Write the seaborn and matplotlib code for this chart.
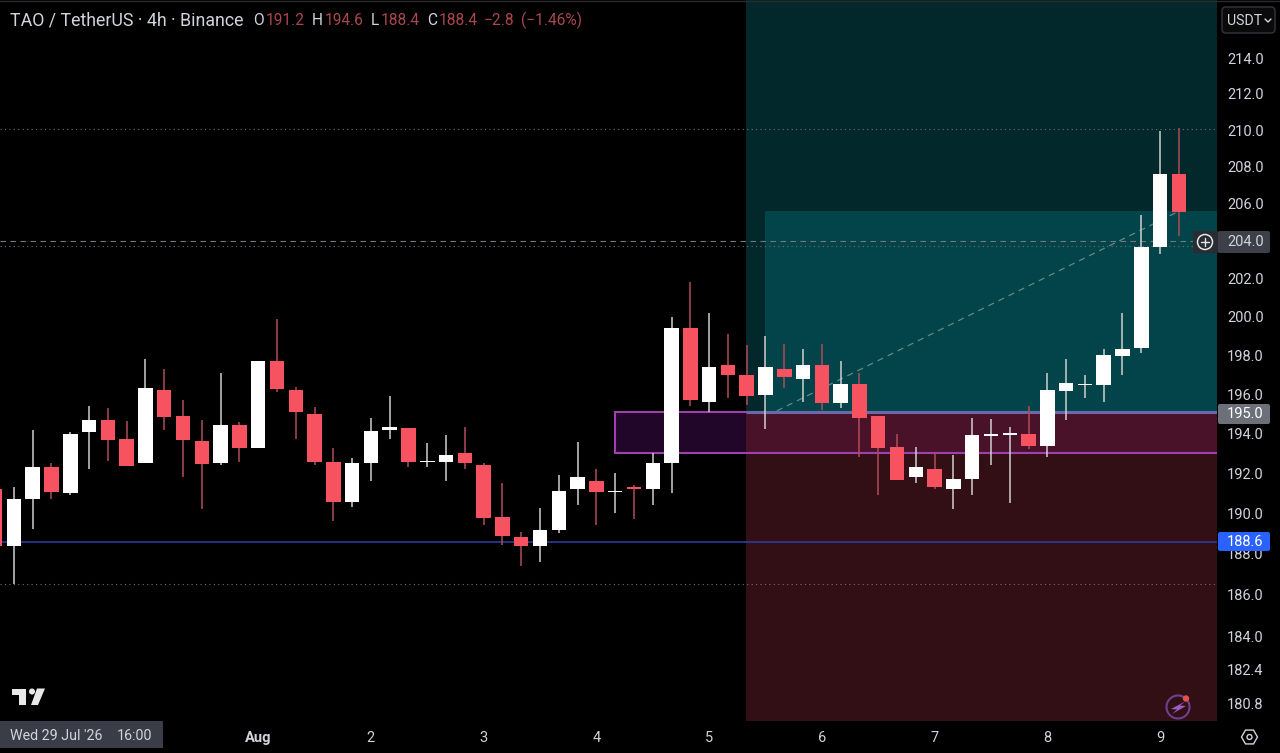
import numpy as np
import pandas as pd
import matplotlib
matplotlib.use('Agg')
import matplotlib.pyplot as plt
from matplotlib.patches import Rectangle, Circle, Polygon, FancyBboxPatch
from matplotlib.ticker import NullLocator
import seaborn as sns

opens = [191.2, 188.4, 190.69, 192.31, 190.99, 194.09, 194.68, 193.72, 192.49, 196.2, 194.88, 193.6, 192.49, 194.41,
         193.28, 197.71, 196.2, 194.99, 192.57, 190.57, 192.49, 194.16, 194.29, 192.57, 192.57, 193.01, 192.39, 189.79,
         188.8, 188.37, 189.18, 191.19, 191.59, 191.07, 191.32, 191.19, 192.49, 199.41, 195.59, 197.5, 196.99, 195.97,
         197.31, 196.77, 197.5, 195.57, 196.51, 194.89, 193.3, 191.79, 192.21, 191.19, 191.69, 193.87, 193.95, 193.98,
         193.38, 196.18, 196.46, 196.49, 197.96, 198.36, 203.67, 207.59]
highs = [194.6, 191.32, 194.17, 192.49, 194.09, 195.4, 195.3, 194.62, 197.79, 197.31, 195.7, 194.68, 197.11, 194.6,
         197.71, 199.91, 196.39, 195.36, 193.28, 192.77, 194.81, 195.91, 194.29, 193.52, 193.9, 194.31, 192.49, 191.49,
         189.08, 190.27, 191.89, 193.58, 192.19, 191.99, 191.41, 193.0, 200.01, 201.83, 200.19, 199.09, 198.54, 199.0,
         198.59, 198.31, 198.59, 197.69, 197.11, 194.89, 194.0, 193.3, 193.0, 192.91, 194.8, 194.72, 194.31, 195.4,
         197.11, 197.79, 196.98, 198.31, 200.19, 205.38, 209.97, 210.1]
lows = [188.4, 186.51, 189.2, 190.72, 190.92, 192.2, 192.59, 192.38, 192.49, 194.17, 191.82, 190.21, 192.41, 192.57,
        193.28, 196.13, 193.73, 192.41, 189.61, 190.29, 191.61, 193.72, 192.32, 192.32, 191.61, 192.21, 189.41, 188.41,
        187.41, 187.6, 189.0, 190.4, 189.41, 189.99, 189.72, 190.4, 191.02, 195.41, 195.1, 195.81, 195.47, 194.21,
        196.3, 195.6, 195.19, 195.3, 192.8, 190.92, 191.67, 191.52, 191.19, 190.21, 190.92, 192.39, 190.52, 193.21,
        192.8, 194.68, 195.81, 195.62, 196.99, 198.1, 203.31, 204.27]
closes = [188.4, 190.71, 192.32, 191.07, 193.98, 194.7, 193.68, 192.38, 196.3, 194.86, 193.68, 192.47, 194.41, 193.28,
          197.71, 196.28, 195.08, 192.57, 190.57, 192.51, 194.11, 194.31, 192.57, 192.62, 192.9, 192.49, 189.77, 188.87,
          188.37, 189.18, 191.09, 191.82, 191.07, 191.12, 191.19, 192.51, 199.41, 195.7, 197.4, 196.97, 195.89, 197.4,
          196.88, 197.5, 195.57, 196.51, 194.79, 193.28, 191.67, 192.31, 191.29, 191.71, 193.9, 193.98, 194.02, 193.36,
          196.2, 196.59, 196.52, 198.0, 198.31, 203.7, 207.59, 205.58]

# price axis
price_ticks = [214.0, 212.0, 210.0, 208.0, 206.0, 204.0, 202.0, 200.0, 198.0, 196.0, 194.0, 192.0, 190.0, 188.0,
               186.0, 184.0, 182.4, 180.8]
price_top, price_bottom = 217.27, 179.96

# time axis (candle index of each label)
day_labels = ['Aug', '2', '3', '4', '5', '6', '7', '8', '9']
day_candles = [14, 20, 26, 32, 38, 44, 50, 56, 62]

# drawn levels
dotted_levels = [210.08, 203.75, 186.5]
crosshair_price = 204.0
support_price = 188.6
entry_price = 195.08
target_price = 205.6
zone_top, zone_bottom = 195.1, 193.01
zone_start, tool_start, target_start = 33, 40, 41
trend_x = [41.6, 63]
trend_y = [195.15, 205.6]

# colours
UP = '#ffffff'
DOWN = '#f7525f'
UP_WICK = '#cfcfcf'
DOWN_WICK = '#b04c58'
TEXT = '#d1d4dc'
VAL = '#a9474f'

sns.set_theme(style='dark', rc={'figure.facecolor': 'black', 'axes.facecolor': 'black'})
plt.rcParams['font.family'] = ['Roboto', 'DejaVu Sans']

df = pd.DataFrame({'i': np.arange(len(opens)), 'open': opens, 'high': highs, 'low': lows, 'close': closes})
df['body'] = (df['close'] - df['open']).abs()
df['base'] = df[['open', 'close']].min(axis=1)
df['up'] = df['close'] >= df['open']

fig = plt.figure(figsize=(12.8, 7.53), dpi=100)
ax = fig.add_axes([0, 32 / 753, 1217 / 1280, 721 / 753])
x_left, x_right = 0.26, 65.03

# long/short tool zones and order block
ax.add_patch(Rectangle((tool_start - 0.03, entry_price), x_right - tool_start + 1, price_top - entry_price, fc='#02282b', lw=0, zorder=1))
ax.add_patch(Rectangle((target_start, entry_price), x_right - target_start + 1, target_price - entry_price, fc='#02444a', lw=0, zorder=1.1))
ax.add_patch(Rectangle((tool_start - 0.03, price_bottom), x_right - tool_start + 1, entry_price - price_bottom, fc='#320f14', lw=0, zorder=1))
ax.add_patch(Rectangle((zone_start, zone_bottom), x_right - zone_start + 1, zone_top - zone_bottom, fc='#21062a', lw=0, zorder=1.2))
ax.add_patch(Rectangle((tool_start - 0.03, zone_bottom), x_right - tool_start + 1, zone_top - zone_bottom, fc='#4a1229', lw=0, zorder=1.3))
ax.add_patch(Rectangle((zone_start, zone_bottom), x_right - zone_start + 1, zone_top - zone_bottom, fc='none', ec='#a23fb0', lw=1.5, zorder=1.6))
ax.hlines(entry_price, tool_start - 0.03, x_right, color='#6a68a8', lw=2.2, zorder=1.7)

for lev in dotted_levels:
    ax.hlines(lev, x_left, x_right, color='#6e7078', lw=0.8, ls=(0, (1, 3)), zorder=1.8)
ax.hlines(crosshair_price, x_left, x_right, color='#74777e', lw=0.8, ls=(0, (5, 4)), zorder=1.8)
ax.hlines(support_price, x_left, x_right, color='#2c3c9c', lw=1.2, zorder=1.8)
ax.plot(trend_x, trend_y, color='#5f8a8a', lw=0.9, ls=(0, (5, 4)), zorder=1.9)

# wicks then bodies
ax.vlines(df.loc[df.up, 'i'], df.loc[df.up, 'low'], df.loc[df.up, 'high'], color=UP_WICK, lw=1.1, zorder=2)
ax.vlines(df.loc[~df.up, 'i'], df.loc[~df.up, 'low'], df.loc[~df.up, 'high'], color=DOWN_WICK, lw=1.1, zorder=2)

for flag, col in [(True, UP), (False, DOWN)]:
    part = df[df.up == flag]
    sns.barplot(data=part, x='i', y='body', bottom=part['base'].values, native_scale=True, color=col, saturation=1,
                width=0.77, errorbar=None, linewidth=0, ax=ax, zorder=3)

ax.set_yscale('log')
ax.yaxis.tick_right()
ax.set_yticks(price_ticks, [f'{p:.1f}' for p in price_ticks])
ax.yaxis.set_minor_locator(NullLocator())
ax.set_xticks(day_candles, day_labels)
ax.set_xlim(x_left, x_right)
ax.set_ylim(price_bottom, price_top)
ax.set_xlabel('')
ax.set_ylabel('')
ax.tick_params(axis='y', length=0, pad=7.3, labelsize=10.5, labelcolor=TEXT)
ax.tick_params(axis='x', length=0, pad=7, labelsize=10.5, labelcolor=TEXT)
ax.get_xticklabels()[0].set_fontweight('bold')
for s in ax.spines.values():
    s.set_visible(False)
ax.grid(False)

# overlay in pixels for the TradingView furniture
ov = fig.add_axes([0, 0, 1, 1], facecolor='none')
ov.set_xlim(0, 1280)
ov.set_ylim(753, 0)
ov.axis('off')
ov.set_zorder(5)

ov.text(10, 20, 'TAO / TetherUS · 4h · Binance', color=TEXT, fontsize=12.75, va='center')
for x, s, c in [(253, 'O', TEXT), (265.5, '191.2', VAL), (312, 'H', TEXT), (325, '194.6', VAL), (371, 'L', TEXT),
                (381, '188.4', VAL), (427, 'C', TEXT), (439, '188.4', VAL), (484, '−2.8', VAL), (521, '(−1.46%)', VAL)]:
    ov.text(x, 20, s, color=c, fontsize=11.2, va='center')

# USDT button
ov.add_patch(FancyBboxPatch((1222, 7), 53, 26, boxstyle='round,pad=0,rounding_size=4', fc='#0a0a0a', ec='#34363c', lw=1))
ov.text(1226.5, 20.5, 'USDT', color=TEXT, fontsize=10.2, va='center')
ov.plot([1265, 1268, 1271], [19, 22, 19], color=TEXT, lw=1)

# price labels
def price_box(y0, y1, col, txt, tc):
    ov.add_patch(FancyBboxPatch((1218, y0), 52, y1 - y0, boxstyle='round,pad=0,rounding_size=2', fc=col, lw=0))
    ov.text(1245.5, (y0 + y1) / 2, txt, color=tc, fontsize=10.5, ha='center', va='center')

price_box(231, 253, '#3d3f49', '204.0', TEXT)
price_box(404, 424, '#6d6f79', '195.0', '#ffffff')
price_box(532, 551, '#2962ff', '188.6', '#ffffff')

# crosshair plus button
ov.add_patch(Rectangle((1193, 231), 25, 22, fc='#2a2c33', lw=0))
ov.add_patch(Circle((1205, 242), 7.5, fc='none', ec='#e6e6e6', lw=1.1))
ov.plot([1201, 1209], [242, 242], color='#e6e6e6', lw=1)
ov.plot([1205, 1205], [238, 246], color='#e6e6e6', lw=1)

# date label
ov.add_patch(Rectangle((0, 721), 163, 27, fc='#3a3d47', lw=0))
ov.text(10, 736.5, "Wed 29 Jul '26", color=TEXT, fontsize=10.3, va='center')
ov.text(117, 736.5, '16:00', color=TEXT, fontsize=10.3, va='center')

# TV logo
ov.add_patch(Polygon([(12, 688.5), (26, 688.5), (26, 705), (18.5, 705), (18.5, 694.5), (12, 694.5)], fc='#e8e8e8', lw=0))
ov.add_patch(Circle((32, 691.5), 3, fc='#e8e8e8', lw=0))
ov.add_patch(Polygon([(37, 688.5), (45, 688.5), (38, 705), (31, 705)], fc='#e8e8e8', lw=0))

# lightning icon
ov.add_patch(Circle((1178, 707), 11.5, fc='none', ec='#6a4290', lw=1.5))
ov.add_patch(Polygon([(1186, 701), (1171, 709), (1177, 709.5), (1172, 714), (1186, 706), (1180, 705.5)], fc='#9a5cc0', lw=0))
ov.add_patch(Circle((1186, 698.5), 3.2, fc='#e0524f', lw=0))

# settings hexagon
ang = np.deg2rad([0, 60, 120, 180, 240, 300])
ov.add_patch(Polygon(np.c_[1249.5 + 8 * np.cos(ang), 737 + 8 * np.sin(ang)], fc='none', ec=TEXT, lw=1))
ov.add_patch(Circle((1249.5, 737), 2.5, fc='none', ec=TEXT, lw=1))

# thin edge line of the window
ov.plot([0, 1280], [0.5, 0.5], color='#2a2a2a', lw=1)

fig.savefig('out.png', dpi=100, facecolor='black')
